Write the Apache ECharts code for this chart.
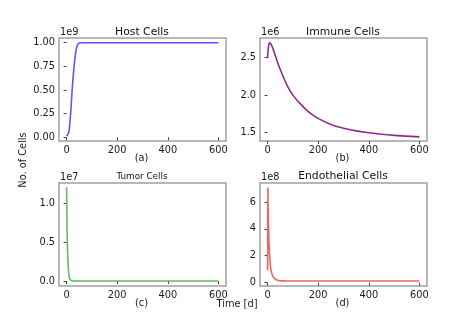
<!DOCTYPE html>
<html>
<head>
<meta charset="utf-8">
<script src="https://cdn.jsdelivr.net/npm/echarts@6/dist/echarts.min.js"></script>
<style>
  html, body { margin: 0; padding: 0; background: #fff; }
  #chart { width: 474px; height: 321px; }
</style>
</head>
<body>
<div id="chart"></div>
<script>
// Simulated cell populations over time (days). Values are in units of the
// axis multiplier shown above each panel (1e9, 1e6, 1e7, 1e8).
const hostTime   = [0, 5, 10, 12, 15, 18, 22, 26, 30, 34, 38, 42, 46, 50, 60, 80, 150, 300, 450, 600];
const hostCells  = [0.01, 0.03, 0.07, 0.12, 0.22, 0.33, 0.5, 0.64, 0.76, 0.86, 0.93, 0.97, 0.99, 0.997, 1.0, 1.0, 1.0, 1.0, 1.0, 1.0];

const immuneTime  = [0, 2, 4, 6, 8, 10, 13, 16, 20, 30, 40, 50, 60, 80, 100, 125, 150, 175, 200, 250, 300, 350, 400, 450, 500, 550, 600];
const immuneCells = [2.49, 2.6, 2.66, 2.685, 2.695, 2.69, 2.68, 2.66, 2.63, 2.53, 2.43, 2.34, 2.26, 2.11, 2.0, 1.9, 1.815, 1.745, 1.69, 1.61, 1.56, 1.525, 1.5, 1.48, 1.465, 1.455, 1.445];

const tumorTime  = [0, 1, 2, 3, 4, 5, 6, 8, 10, 12, 15, 20, 30, 40, 100, 300, 600];
const tumorCells = [1.2, 0.89, 0.66, 0.5, 0.37, 0.28, 0.21, 0.115, 0.064, 0.035, 0.015, 0.004, 0.0005, 0, 0, 0, 0];

const endoTime  = [0, 0.5, 1, 2, 3, 4, 5, 6, 8, 10, 12, 15, 20, 25, 30, 40, 50, 60, 80, 200, 400, 600];
const endoCells = [0.92, 4.5, 7.05, 5.8, 4.8, 4.0, 3.3, 2.8, 2.0, 1.45, 1.1, 0.8, 0.5, 0.35, 0.26, 0.17, 0.14, 0.13, 0.12, 0.12, 0.12, 0.12];

const panelTitles = ['Host Cells', 'Immune Cells', 'Tumor Cells', 'Endothelial Cells'];
const panelTags   = ['(a)', '(b)', '(c)', '(d)'];
const multipliers = ['1e9', '1e6', '1e7', '1e8'];
const timeTicks   = [0, 200, 400, 600];
const hostTicks   = [0, 0.25, 0.5, 0.75, 1.0];
const immuneTicks = [1.5, 2.0, 2.5];
const tumorTicks  = [0, 0.5, 1.0];
const endoTicks   = [0, 2, 4, 6];

const FONT = 'DejaVu Sans';
const pair = (t, v) => t.map((x, i) => [x, v[i]]);

const grids = [
  { left: 59,  top: 38,  width: 167, height: 103 },
  { left: 260, top: 38,  width: 167, height: 103 },
  { left: 59,  top: 183, width: 167, height: 103 },
  { left: 260, top: 183, width: 167, height: 103 }
].map(g => Object.assign(g, { show: true, borderColor: '#a0a0a0', borderWidth: 1.5, backgroundColor: '#fff' }));

const yCfg = [
  { min: -0.04, max: 1.05, ticks: hostTicks,   dec: 2 },
  { min: 1.39,  max: 2.76, ticks: immuneTicks, dec: 1 },
  { min: -0.064, max: 1.256, ticks: tumorTicks, dec: 1 },
  { min: -0.25, max: 7.41, ticks: endoTicks,   dec: 0 }
];

const tickLabel = { fontFamily: FONT, fontSize: 9.8, color: '#1a1a1a' };

const xAxis = grids.map((g, i) => ({
  type: 'value', gridIndex: i, min: -30, max: 630,
  axisLine: { show: false },
  splitLine: { show: false },
  axisTick: { show: true, length: 3, lineStyle: { color: '#444' }, customValues: timeTicks },
  axisLabel: Object.assign({ margin: 4, customValues: timeTicks, formatter: v => String(v) }, tickLabel)
}));

const yAxis = yCfg.map((c, i) => ({
  type: 'value', gridIndex: i, min: c.min, max: c.max,
  axisLine: { show: false },
  splitLine: { show: false },
  axisTick: { show: true, length: 3, lineStyle: { color: '#444' }, customValues: c.ticks },
  axisLabel: Object.assign({ margin: 4, customValues: c.ticks, formatter: v => v.toFixed(c.dec) }, tickLabel)
}));

const colors = ['#5a5ae6', '#8e2c8e', '#66b866', '#ee6464'];
const smoothing = [0.3, 0.4, 0.2, 0.2];
const seriesData = [pair(hostTime, hostCells), pair(immuneTime, immuneCells), pair(tumorTime, tumorCells), pair(endoTime, endoCells)];

const series = seriesData.map((d, i) => ({
  type: 'line', xAxisIndex: i, yAxisIndex: i, data: d,
  showSymbol: false, smooth: smoothing[i], silent: true,
  lineStyle: { color: colors[i], width: 1.6 }
}));

// Panel titles, multiplier labels, subpanel tags and shared axis labels
const titleCenters = [[142, 32], [343, 32], [142, 177], [343, 176]];
const titleSizes = [10.8, 10.8, 8.8, 10.8];
const graphic = [];
panelTitles.forEach((t, i) => {
  graphic.push({ type: 'text', x: titleCenters[i][0], y: titleCenters[i][1],
    style: { text: t, fontFamily: FONT, fontSize: titleSizes[i], fill: '#111', textAlign: 'center', textVerticalAlign: 'middle' } });
  graphic.push({ type: 'text', x: grids[i].left + 1, y: grids[i].top - 1,
    style: { text: multipliers[i], fontFamily: FONT, fontSize: 9.8, fill: '#1a1a1a', textAlign: 'left', textVerticalAlign: 'bottom' } });
  graphic.push({ type: 'text', x: grids[i].left + grids[i].width / 2 - 1, y: grids[i].top + grids[i].height + 17,
    style: { text: panelTags[i], fontFamily: FONT, fontSize: 9.8, fill: '#1a1a1a', textAlign: 'center', textVerticalAlign: 'middle' } });
});
graphic.push({ type: 'text', x: 237, y: 304,
  style: { text: 'Time [d]', fontFamily: FONT, fontSize: 9.8, fill: '#1a1a1a', textAlign: 'center', textVerticalAlign: 'middle' } });
graphic.push({ type: 'text', x: 23, y: 160, rotation: Math.PI / 2,
  style: { text: 'No. of Cells', fontFamily: FONT, fontSize: 9.8, fill: '#1a1a1a', textAlign: 'center', textVerticalAlign: 'middle' } });

const chart = echarts.init(document.getElementById('chart'), null, { renderer: 'canvas' });
chart.setOption({
  animation: false,
  backgroundColor: '#fff',
  grid: grids, xAxis, yAxis, series, graphic
});
</script>
</body>
</html>
